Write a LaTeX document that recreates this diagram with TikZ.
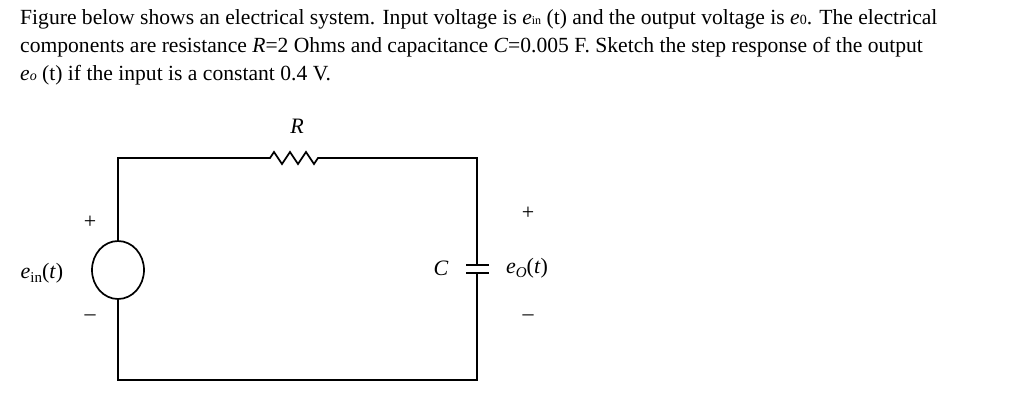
\documentclass[tikz,border=0pt]{standalone}
\usepackage{fontspec}
\usetikzlibrary{shapes.geometric}
\setmainfont{Liberation Serif}
\begin{document}
\begin{tikzpicture}[x=1pt,y=-1pt,
  txt/.style={anchor=base west,inner sep=0pt,font=\fontsize{21.6}{24}\selectfont},
  lbl/.style={inner sep=0pt,font=\fontsize{22}{24}\selectfont},
  wire/.style={line width=1.7pt,line join=miter}]
\useasboundingbox (0,0) rectangle (1024,400);
\node[txt] (l1) at (20,24) {Figure below shows an electrical system. Input voltage is \textit{e}{\fontsize{12}{12}\selectfont in} (t) and the output voltage is \textit{e}{\fontsize{14}{14}\selectfont 0}. The electrical};
\node[txt] (l2) at (20,52) {components are resistance \textit{R}=2 Ohms and capacitance \textit{C}=0.005 F. Sketch the step response of the output};
\node[txt] (l3) at (20,80) {\textit{e}{\fontsize{14}{14}\selectfont\textit{o}} (t) if the input is a constant 0.4 V.};
% circuit
\node[draw,line width=1.7pt,ellipse,minimum width=52pt,minimum height=58pt,inner sep=0pt] (src) at (118,270) {};
\coordinate (tl) at (118,158);
\coordinate (tr) at (477,158);
\coordinate (bl) at (118,380);
\coordinate (br) at (477,380);
\coordinate (ra) at (270,158);
\coordinate (rb) at (326,158);
\coordinate (ct) at (477,265);
\coordinate (cb) at (477,273);
\draw[wire] (src.north) -- (tl) -- (ra)
  -- ++(4,-6) -- ++(8,12) -- ++(8,-12) -- ++(8,12) -- ++(8,-12) -- ++(8,12) -- ++(4,-6) -- (rb) -- (tr) -- (ct);
\draw[wire] (466,265) -- (489,265);
\draw[wire] (466,273) -- (489,273);
\draw[wire] (cb) -- (br) -- (bl) -- (src.south);
\node[lbl] (rl) at (297,126) {\textit{R}};
\node[lbl] (p1) at (90,222) {+};
\node[lbl] (m1) at (90,318) {--};
\node[lbl] (ein) at (42,273) {\textit{e}{\fontsize{15}{15}\selectfont\raisebox{-4pt}{in}}(\textit{t})};
\node[lbl] (cl) at (441,268) {\textit{C}};
\node[lbl] (eo) at (527,268) {\textit{e}{\fontsize{15}{15}\selectfont\raisebox{-4pt}{\textit{O}}}(\textit{t})};
\node[lbl] (p2) at (528,213) {+};
\node[lbl] (m2) at (528,318) {--};
\end{tikzpicture}
\end{document}
